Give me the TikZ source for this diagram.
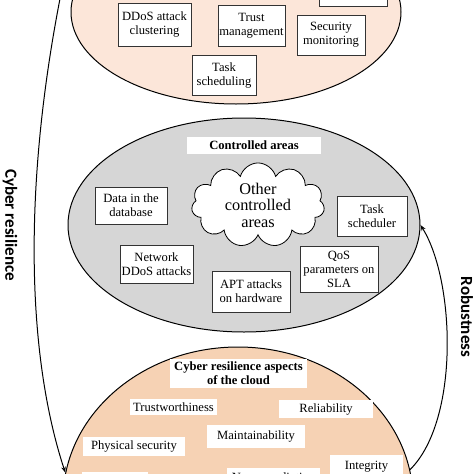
\documentclass[tikz,border=0pt]{standalone}
\usepackage{fontspec}
\setmainfont{Liberation Serif}
\newfontfamily\labelfont{Carlito}
\usepackage{xcolor}
\usetikzlibrary{shapes.geometric,shapes.symbols,arrows.meta}

\definecolor{topfill}{HTML}{FCE6D9}
\definecolor{ctrlfill}{HTML}{D6D6D6}
\definecolor{aspectfill}{HTML}{F6D2B4}

\begin{document}
\begin{tikzpicture}[x=1pt,y=-1pt,
    font=\fontsize{12.6}{14}\selectfont,
    zone/.style={ellipse,draw,line width=1pt},
    areabox/.style={draw=black!80,fill=white,line width=0.9pt,align=center,inner sep=1pt},
    aspectbox/.style={fill=white,align=center,inner sep=2pt},
    titlebox/.style={aspectbox,font=\fontsize{12.6}{14}\selectfont\bfseries},
    sidelabel/.style={font=\labelfont\bfseries\fontsize{17}{17}\selectfont,rotate=-90},
    link/.style={line width=1pt,-{Stealth[length=6pt,width=4.5pt]}}]
      \useasboundingbox (0,0) rectangle (474,474);
      \clip (0,0) rectangle (474,474);
      % the three zones
      \node (topzone) [zone,fill=topfill,minimum width=330,minimum height=184] at (236,12) {};
      \node (ctrlzone) [zone,fill=ctrlfill,minimum width=352,minimum height=214] at (244,225) {};
      \node (aspectzone) [zone,fill=aspectfill,minimum width=350,minimum height=306] at (238,500) {};
      % top zone
      \node (hidden) [areabox,anchor=south,minimum width=68,minimum height=40] at (353,7) {};
      \node (ddos) [areabox,minimum width=73,minimum height=43] at (154.5,24.5) {DDoS attack\\clustering};
      \node (trust) [areabox,minimum width=67,minimum height=41] at (251.5,25.5) {Trust\\management};
      \node (secmon) [areabox,minimum width=68,minimum height=40] at (331,35) {Security\\monitoring};
      \node (tasksched) [areabox,minimum width=64,minimum height=40] at (224,75) {Task\\scheduling};
      % controlled areas
      \node (ctrltitle) [titlebox,minimum width=134,minimum height=17] at (254,145.5) {Controlled areas};
      \node (othercloud) [cloud,draw,fill=white,line width=0.8pt,cloud puffs=11,aspect=1.75,
        minimum width=133,minimum height=76,inner sep=0pt,align=center,
        font=\fontsize{16.3}{16.5}\selectfont] at (258,205) {Other\\controlled\\areas};
      \node (database) [areabox,minimum width=72,minimum height=37] at (131,205.5) {Data in the\\database};
      \node (netddos) [areabox,minimum width=73,minimum height=38] at (156.5,264) {Network\\DDoS attacks};
      \node (apt) [areabox,minimum width=78,minimum height=41] at (251,291.5) {APT attacks\\on hardware};
      \node (qos) [areabox,minimum width=78,minimum height=46] at (339,269) {QoS\\parameters on\\SLA};
      \node (scheduler) [areabox,minimum width=70,minimum height=40] at (372,216) {Task\\scheduler};
      % cyber resilience aspects
      \node (aspecttitle) [titlebox,minimum width=137,minimum height=29] at (238.5,373.5) {Cyber resilience aspects\\of the cloud};
      \node (trustworth) [aspectbox,minimum width=87,minimum height=16] at (173.5,407) {Trustworthiness};
      \node (reliab) [aspectbox,minimum width=94,minimum height=18] at (326,409) {Reliability};
      \node (maintain) [aspectbox,minimum width=98,minimum height=23] at (256,436.5) {Maintainability};
      \node (physsec) [aspectbox,minimum width=102,minimum height=19] at (134,446.5) {Physical security};
      \node (integrity) [aspectbox,anchor=north,minimum width=73,minimum height=22] at (366.5,455) {Integrity};
      \node (nonrep) [aspectbox,anchor=north,minimum width=93,minimum height=20] at (273.5,468) {Non-repudiation};
      \node (lowleft) [aspectbox,anchor=north,minimum width=66,minimum height=20] at (115,472) {};
      % side connectors
      \coordinate (cyberstart) at (68,-40);
      \draw[link] (cyberstart) .. controls (22,170) and (25,350) .. (aspectzone.171);
      \draw[link,{Stealth[length=6pt,width=4.5pt]}-] (ctrlzone.east) .. controls (455,280) and (460,420) .. (aspectzone.10);
      \node (cyberlabel) [sidelabel] at (10,225) {Cyber resilience};
      \node (robustlabel) [sidelabel] at (467,317) {Robustness};
    \end{tikzpicture}
\end{document}
